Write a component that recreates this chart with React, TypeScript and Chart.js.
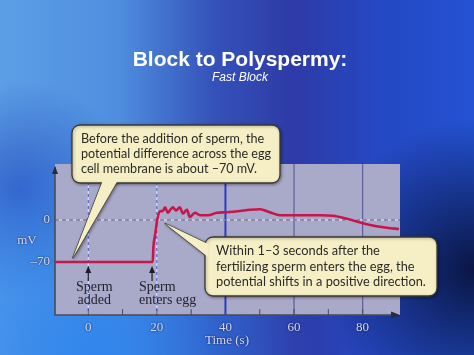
import { useEffect, useRef } from 'react';
import { Chart, registerables } from 'chart.js';

Chart.register(...registerables);

// ---- data ----
const timeS = [-9.7, 18.8, 19.0, 19.5, 20.1, 20.8, 21.7, 22.4, 23.2, 23.9, 24.7, 25.6, 26.7, 27.6, 28.8, 29.6, 31.1, 32.6, 34.9, 37.5, 40.4, 44.2, 47.1, 50.1, 52.9, 55.9, 61.7, 67.6, 71.3, 75.4, 81.2, 87.1, 90.6];
const potentialMV = [-70, -70, -45, -25, 0, 14, 15, 21, 12, 17, 21, 16, 21, 11, 17, 5, 12, 8, 8, 12, 13, 15, 17, 18, 13, 8, 8, 8, 7, 2, -7, -13, -15];

const xTickValues = [0, 10, 20, 30, 40, 50, 60, 70, 80];
const xLabelValues = [0, 20, 40, 60, 80];
const yTickValues = [-70, 0];
const yTickLabels = ['–70', '0'];

const titleText = 'Block to Polyspermy:';
const subtitleText = 'Fast Block';
const yAxisTitle = 'mV';
const xAxisTitle = 'Time (s)';
const callout1Lines = ['Before the addition of sperm, the', 'potential difference across the egg', 'cell membrane is about –70 mV.'];
const callout2Lines = ['Within 1–3 seconds after the', 'fertilizing sperm enters the egg, the', 'potential shifts in a positive direction.'];
const event1Lines = ['Sperm', 'added'];
const event2Lines = ['Sperm', 'enters egg'];
const event1Time = 0;
const event2Time = 18.6;
const callout1Tip = { x: -4.5, y: -63 };
const callout2Tip = { x: 22.4, y: -6 };

const SERIF = '"Liberation Serif", "DejaVu Serif", serif';
const SANS = 'Lato, "Liberation Sans", sans-serif';
const CREAM = '#f6efc6';

function drawCallout(ctx: CanvasRenderingContext2D, bx: number, by: number, bw: number, bh: number,
  b1: [number, number], b2: [number, number], tip: [number, number], lines: string[], tx: number, ty: number, lh: number, font: string) {
  ctx.save();
  ctx.lineJoin = 'round';
  ctx.shadowColor = 'rgba(0,0,0,0.35)';
  ctx.shadowBlur = 3;
  ctx.shadowOffsetX = 1;
  ctx.shadowOffsetY = 1;
  // pointer
  ctx.beginPath();
  ctx.moveTo(b1[0], b1[1]);
  ctx.lineTo(tip[0], tip[1]);
  ctx.lineTo(b2[0], b2[1]);
  ctx.closePath();
  ctx.fillStyle = CREAM;
  ctx.fill();
  ctx.strokeStyle = '#3a3a30';
  ctx.lineWidth = 1.3;
  ctx.stroke();
  // box
  ctx.beginPath();
  ctx.roundRect(bx, by, bw, bh, 8);
  ctx.fill();
  ctx.stroke();
  ctx.shadowColor = 'transparent';
  ctx.shadowBlur = 0;
  ctx.shadowOffsetX = 0;
  ctx.shadowOffsetY = 0;
  ctx.beginPath();
  ctx.moveTo(b1[0], b1[1]);
  ctx.lineTo(tip[0], tip[1]);
  ctx.lineTo(b2[0], b2[1]);
  ctx.closePath();
  ctx.fill();
  // text
  ctx.fillStyle = '#2a2a28';
  ctx.font = font;
  ctx.textAlign = 'left';
  ctx.textBaseline = 'middle';
  lines.forEach((l, i) => ctx.fillText(l, tx, ty + i * lh));
  ctx.restore();
}

const deco = {
  id: 'deco',
  beforeDraw(chart: any) {
    const { ctx, chartArea: a, scales } = chart;
    const x = scales.x, y = scales.y;
    const W = chart.width, H = chart.height;
    ctx.save();
    // background
    const lin = ctx.createLinearGradient(0, 0, W, 0);
    lin.addColorStop(0, '#5c9fe6');
    lin.addColorStop(0.25, '#4f8edf');
    lin.addColorStop(0.45, '#3552ba');
    lin.addColorStop(0.62, '#2e3aa6');
    lin.addColorStop(0.8, '#2548c4');
    lin.addColorStop(1, '#2352d2');
    ctx.fillStyle = lin;
    ctx.fillRect(0, 0, W, H);
    const rad = (cx: number, cy: number, r: number, c0: string, c1: string) => {
      const g = ctx.createRadialGradient(cx, cy, 0, cx, cy, r);
      g.addColorStop(0, c0);
      g.addColorStop(1, c1);
      ctx.fillStyle = g;
      ctx.fillRect(0, 0, W, H);
    };
    rad(20, 190, 110, 'rgba(30,60,180,0.6)', 'rgba(30,60,180,0)');
    rad(90, 360, 230, 'rgba(40,130,240,0.8)', 'rgba(40,130,240,0)');
    rad(474, 270, 150, 'rgba(8,18,60,0.95)', 'rgba(8,18,60,0)');
    // title
    ctx.fillStyle = '#ffffff';
    ctx.textAlign = 'center';
    ctx.textBaseline = 'middle';
    ctx.font = 'bold 21px "Liberation Sans", Arial, sans-serif';
    ctx.fillText(titleText, 240, 60);
    ctx.font = 'italic 12px "Liberation Sans", Arial, sans-serif';
    ctx.fillText(subtitleText, 240, 78);
    // plot area
    ctx.fillStyle = '#a9a9c9';
    ctx.fillRect(a.left, a.top, a.right - a.left, a.bottom - a.top);
    // vertical reference lines
    const vline = (v: number, color: string, w: number, dash: number[]) => {
      const px = x.getPixelForValue(v);
      ctx.beginPath();
      ctx.setLineDash(dash);
      ctx.strokeStyle = color;
      ctx.lineWidth = w;
      ctx.moveTo(px, a.top);
      ctx.lineTo(px, a.bottom);
      ctx.stroke();
    };
    vline(0, '#e4e8ff', 1, []);
    vline(0, '#4050b8', 1, [3, 3]);
    vline(20, '#e4e8ff', 1, []);
    vline(20, '#4050b8', 1, [3, 3]);
    vline(40, '#2a3ac8', 2, []);
    vline(60, '#5a5e9c', 1.2, []);
    vline(80, '#5a5e9c', 1.2, []);
    ctx.setLineDash([]);
    // zero line
    const zy = y.getPixelForValue(0);
    ctx.strokeStyle = '#e6e6f0';
    ctx.lineWidth = 1;
    ctx.beginPath();
    ctx.moveTo(a.left, zy);
    ctx.lineTo(a.right, zy);
    ctx.stroke();
    ctx.strokeStyle = '#505078';
    ctx.setLineDash([4, 3]);
    ctx.beginPath();
    ctx.moveTo(a.left, zy);
    ctx.lineTo(a.right, zy);
    ctx.stroke();
    ctx.setLineDash([]);
    // inner tick marks
    ctx.strokeStyle = '#4a4a5a';
    ctx.lineWidth = 1;
    xTickValues.forEach((v) => {
      const px = x.getPixelForValue(v);
      ctx.beginPath();
      ctx.moveTo(px, a.bottom);
      ctx.lineTo(px, a.bottom - 6);
      ctx.stroke();
    });
    // axes
    ctx.strokeStyle = '#4a4a58';
    ctx.lineWidth = 1.6;
    ctx.beginPath();
    ctx.moveTo(a.left, a.top + 3);
    ctx.lineTo(a.left, a.bottom);
    ctx.lineTo(a.right - 3, a.bottom);
    ctx.stroke();
    ctx.fillStyle = '#2a2a38';
    ctx.beginPath();
    ctx.moveTo(a.left, a.top + 2);
    ctx.lineTo(a.left - 3, a.top + 10);
    ctx.lineTo(a.left + 3, a.top + 10);
    ctx.closePath();
    ctx.fill();
    ctx.beginPath();
    ctx.moveTo(a.right, a.bottom);
    ctx.lineTo(a.right - 9, a.bottom - 3.5);
    ctx.lineTo(a.right - 9, a.bottom + 3.5);
    ctx.closePath();
    ctx.fill();
    ctx.restore();
    // halo for tick labels drawn by the scales
    ctx.shadowColor = 'rgba(10,15,60,0.95)';
    ctx.shadowBlur = 2;
  },
  beforeDatasetsDraw(chart: any) {
    const ctx = chart.ctx;
    ctx.shadowColor = 'rgba(0,0,0,0)';
    ctx.shadowBlur = 0;
  },
  afterDatasetsDraw(chart: any) {
    const { ctx, chartArea: a, scales } = chart;
    const x = scales.x, y = scales.y;
    ctx.save();
    // event arrows and labels
    const arrow = (t: number) => {
      const px = x.getPixelForValue(t);
      ctx.strokeStyle = '#1e1e28';
      ctx.fillStyle = '#1e1e28';
      ctx.lineWidth = 1.2;
      ctx.beginPath();
      ctx.moveTo(px, 281);
      ctx.lineTo(px, 270);
      ctx.stroke();
      ctx.beginPath();
      ctx.moveTo(px, 266);
      ctx.lineTo(px - 3, 273);
      ctx.lineTo(px + 3, 273);
      ctx.closePath();
      ctx.fill();
      return px;
    };
    ctx.font = `14px ${SERIF}`;
    ctx.textBaseline = 'middle';
    const p1 = arrow(event1Time);
    ctx.fillStyle = '#24242e';
    ctx.textAlign = 'center';
    ctx.fillText(event1Lines[0], p1 + 6, 287);
    ctx.fillText(event1Lines[1], p1 + 6, 300);
    const p2 = arrow(event2Time);
    ctx.fillStyle = '#24242e';
    ctx.textAlign = 'left';
    ctx.fillText(event2Lines[0], p2 - 13, 287);
    ctx.fillText(event2Lines[1], p2 - 13, 300);
    ctx.restore();

    const tip1: [number, number] = [x.getPixelForValue(callout1Tip.x), y.getPixelForValue(callout1Tip.y)];
    drawCallout(ctx, 72, 125, 208, 58, [103, 180], [118, 180], tip1, callout1Lines, 81, 139, 15, `12.6px ${SANS}`);
    const tip2: [number, number] = [x.getPixelForValue(callout2Tip.x), y.getPixelForValue(callout2Tip.y)];
    drawCallout(ctx, 205, 237, 232, 59, [208, 244], [208, 257], tip2, callout2Lines, 216, 251, 15.5, `12.8px ${SANS}`);

    // axis titles
    ctx.save();
    ctx.shadowColor = 'rgba(10,15,60,0.95)';
    ctx.shadowBlur = 2;
    ctx.fillStyle = '#d6dbee';
    ctx.font = `13px ${SERIF}`;
    ctx.textAlign = 'center';
    ctx.textBaseline = 'middle';
    ctx.fillText(yAxisTitle, 27, 241);
    ctx.fillText(xAxisTitle, (a.left + a.right) / 2 - 0.5, 341);
    ctx.restore();
  },
};

export default function App() {
  const ref = useRef<HTMLCanvasElement>(null);
  useEffect(() => {
    document.body.style.margin = '0';
    const chart = new Chart(ref.current as HTMLCanvasElement, {
      type: 'line',
      data: {
        datasets: [{
          data: timeS.map((t, i) => ({ x: t, y: potentialMV[i] })),
          borderColor: '#c8164a',
          borderWidth: 2.6,
          pointRadius: 0,
          cubicInterpolationMode: 'monotone',
          fill: false,
        }],
      },
      options: {
        responsive: false,
        animation: false,
        devicePixelRatio: 1,
        layout: { padding: { left: 0, top: 164, right: 74, bottom: 0 } },
        plugins: { legend: { display: false }, tooltip: { enabled: false }, title: { display: false } },
        scales: {
          x: {
            type: 'linear',
            min: -9.7,
            max: 90.9,
            grid: { display: false, drawTicks: false },
            border: { display: false },
            afterBuildTicks: (s: any) => { s.ticks = xTickValues.map((v) => ({ value: v })); },
            afterFit: (s: any) => { s.height = 40; },
            ticks: {
              padding: 5,
              autoSkip: false,
              maxRotation: 0,
              color: '#d6dbee',
              font: { family: SERIF, size: 13 },
              callback: (v: any) => (xLabelValues.includes(Number(v)) ? String(v) : ''),
            },
          },
          y: {
            type: 'linear',
            min: -158.3,
            max: 93.3,
            grid: { display: false, drawTicks: false },
            border: { display: false },
            afterBuildTicks: (s: any) => { s.ticks = yTickValues.map((v) => ({ value: v })); },
            afterFit: (s: any) => { s.width = 55; },
            ticks: {
              padding: 5,
              color: '#d6dbee',
              font: { family: SERIF, size: 13 },
              callback: (v: any) => {
                const i = yTickValues.indexOf(Number(v));
                return i >= 0 ? yTickLabels[i] : '';
              },
            },
          },
        },
      } as any,
      plugins: [deco],
    });
    return () => chart.destroy();
  }, []);
  return <canvas ref={ref} width={474} height={355} style={{ display: 'block' }} />;
}
